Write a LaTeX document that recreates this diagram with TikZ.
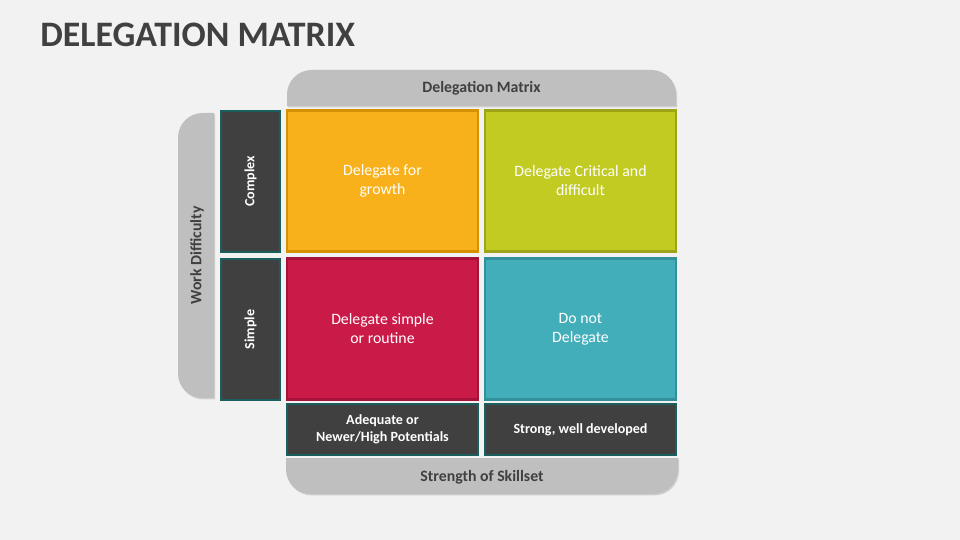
\documentclass[tikz,border=0pt]{standalone}
\usepackage{fontspec}
\setmainfont{Carlito}
\usetikzlibrary{shadows}
\definecolor{pagebg}{HTML}{F2F2F2}
\definecolor{titlegray}{HTML}{404040}
\definecolor{hdrgray}{HTML}{BFBFBF}
\definecolor{darkcell}{HTML}{404040}
\definecolor{tealedge}{HTML}{1B5E5E}
\definecolor{orangefill}{HTML}{F8B11A}
\definecolor{orangeedge}{HTML}{D69100}
\definecolor{greenfill}{HTML}{C2CB21}
\definecolor{greenedge}{HTML}{9EA417}
\definecolor{redfill}{HTML}{CA1A48}
\definecolor{rededge}{HTML}{A5123A}
\definecolor{aquafill}{HTML}{41AEBA}
\definecolor{aquaedge}{HTML}{33909A}
\tikzset{
  softshadow/.style={drop shadow={shadow xshift=0.6pt, shadow yshift=-0.8pt, opacity=0.3}},
  hdr/.style={fill=hdrgray, softshadow},
  hdrtext/.style={text=titlegray, font=\fontsize{9}{11}\selectfont\bfseries, inner sep=0pt},
  quad/.style={draw=#1edge, fill=#1fill, line width=1.2pt, minimum width=3.82cm,
    minimum height=2.82cm, inner sep=0pt, text=white, align=center,
    font=\fontsize{9}{10.8}\selectfont, softshadow},
  rowlbl/.style={draw=tealedge, fill=darkcell, line width=1.2pt, minimum width=1.18cm,
    minimum height=2.82cm, inner sep=0pt, softshadow},
  collbl/.style={draw=tealedge, fill=darkcell, line width=1.2pt, minimum width=3.82cm,
    minimum height=1.02cm, inner sep=0pt, text=white, align=center,
    font=\fontsize{8}{9.6}\selectfont\bfseries, softshadow},
  lbltext/.style={text=white, font=\fontsize{8}{9.6}\selectfont\bfseries, rotate=90}
}
\begin{document}
\begin{tikzpicture}[x=0.02cm, y=-0.02cm]
	\fill[pagebg] (0,0) rectangle (960,540);
	\node[anchor=west, inner sep=0pt, text=titlegray,
	  font=\fontsize{20.4}{23}\selectfont\bfseries] (title) at (40,35) {DELEGATION MATRIX};
	% axis headers
	\fill[hdr] (287,106) [rounded corners=14] -- (287,70) -- (676,70) [sharp corners] -- (676,106) -- cycle;
	\node[hdrtext] (topHdr) at (481.5,88) {Delegation Matrix};
	\fill[hdr] (214,113) [rounded corners=14] -- (178,113) -- (178,398) [sharp corners] -- (214,398) -- cycle;
	\node[hdrtext, rotate=90] (leftHdr) at (197,255.5) {Work Difficulty};
	\fill[hdr] (286,458) [rounded corners=14] -- (286,494) -- (678,494) [sharp corners] -- (678,458) -- cycle;
	\node[hdrtext] (bottomHdr) at (482,477) {Strength of Skillset};
	% row labels
	\node[rowlbl] (complex) at (250.5,181.5) {};
	\node[lbltext] at (complex.center) {Complex};
	\node[rowlbl] (simple) at (250.5,329.5) {};
	\node[lbltext] at (simple.center) {Simple};
	% quadrants
	\node[quad=orange] (growth) at (382.5,181) {Delegate for\\growth};
	\node[quad=green] (critical) at (580.5,181) {Delegate Critical and\\difficult};
	\node[quad=red] (routine) at (382.5,329) {Delegate simple\\or routine};
	\node[quad=aqua] (notDelegate) at (580.5,329) {Do not\\Delegate};
	% column labels
	\node[collbl] (adequate) at (382.5,429.5) {Adequate or\\Newer/High Potentials};
	\node[collbl] (strong) at (580.5,429.5) {Strong, well developed};
\end{tikzpicture}
\end{document}
